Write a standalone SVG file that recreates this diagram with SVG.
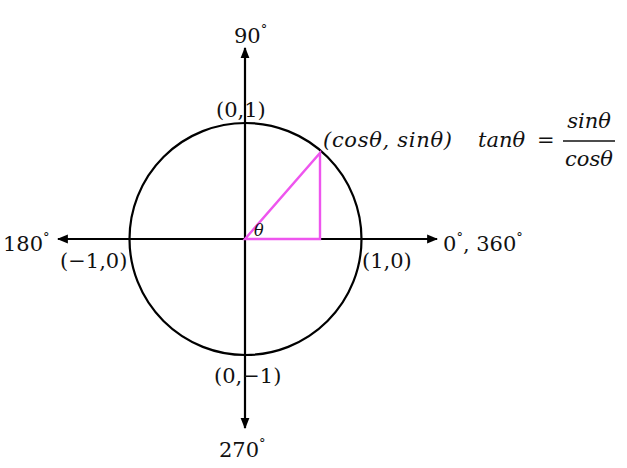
<svg xmlns="http://www.w3.org/2000/svg" width="627" height="468" viewBox="0 0 627 468">
<style>
text{font-family:"DejaVu Serif","Liberation Serif",serif;font-size:21px;fill:#111}
.it{font-style:italic}
.deg{font-size:13px}
.ax{stroke:#000;stroke-width:2.2;fill:none}
.tri{stroke:#ee55ee;stroke-width:2.4;fill:none}
</style>
<defs>
<marker id="ah" viewBox="0 0 10 10" refX="9" refY="5" markerWidth="5" markerHeight="5" orient="auto-start-reverse" markerUnits="strokeWidth">
<path d="M0,1 L10,5 L0,9 Z" fill="#000"/>
</marker>
</defs>
<rect width="627" height="468" fill="#fff"/>
<g id="connectors">
<line class="ax" x1="58" y1="239" x2="437" y2="239" marker-start="url(#ah)" marker-end="url(#ah)"/>
<line class="ax" x1="245" y1="48" x2="245" y2="428" marker-start="url(#ah)" marker-end="url(#ah)"/>
</g>
<g id="circle"><circle cx="245.5" cy="239" r="116" class="ax"/></g>
<g id="triangle"><path class="tri" d="M245,239 L320,153 L320,239 Z"/></g>
<g id="labels">
<text x="234" y="43">90<tspan class="deg" dy="-9">°</tspan></text>
<text x="216" y="117">(0,1)</text>
<text x="323" y="147" class="it" textLength="129">(cosθ, sinθ)</text>
<text x="478" y="147" class="it">tanθ</text>
<text x="537" y="147">=</text>
<text x="589" y="128" class="it" text-anchor="middle">sinθ</text>
<line x1="563" y1="141" x2="615" y2="141" stroke="#111" stroke-width="1.6"/>
<text x="589" y="166" class="it" text-anchor="middle">cosθ</text>
<text x="3" y="251">180<tspan class="deg" dy="-9">°</tspan></text>
<text x="60" y="268">(−1,0)</text>
<text x="362" y="268">(1,0)</text>
<text x="443" y="251">0<tspan class="deg" dy="-9">°</tspan><tspan dy="9">, 360</tspan><tspan class="deg" dy="-9">°</tspan></text>
<text x="214" y="383">(0,−1)</text>
<text x="219" y="457">270<tspan class="deg" dy="-9">°</tspan></text>
<text x="254" y="236" class="it" style="font-size:16px">θ</text>
</g>
</svg>
